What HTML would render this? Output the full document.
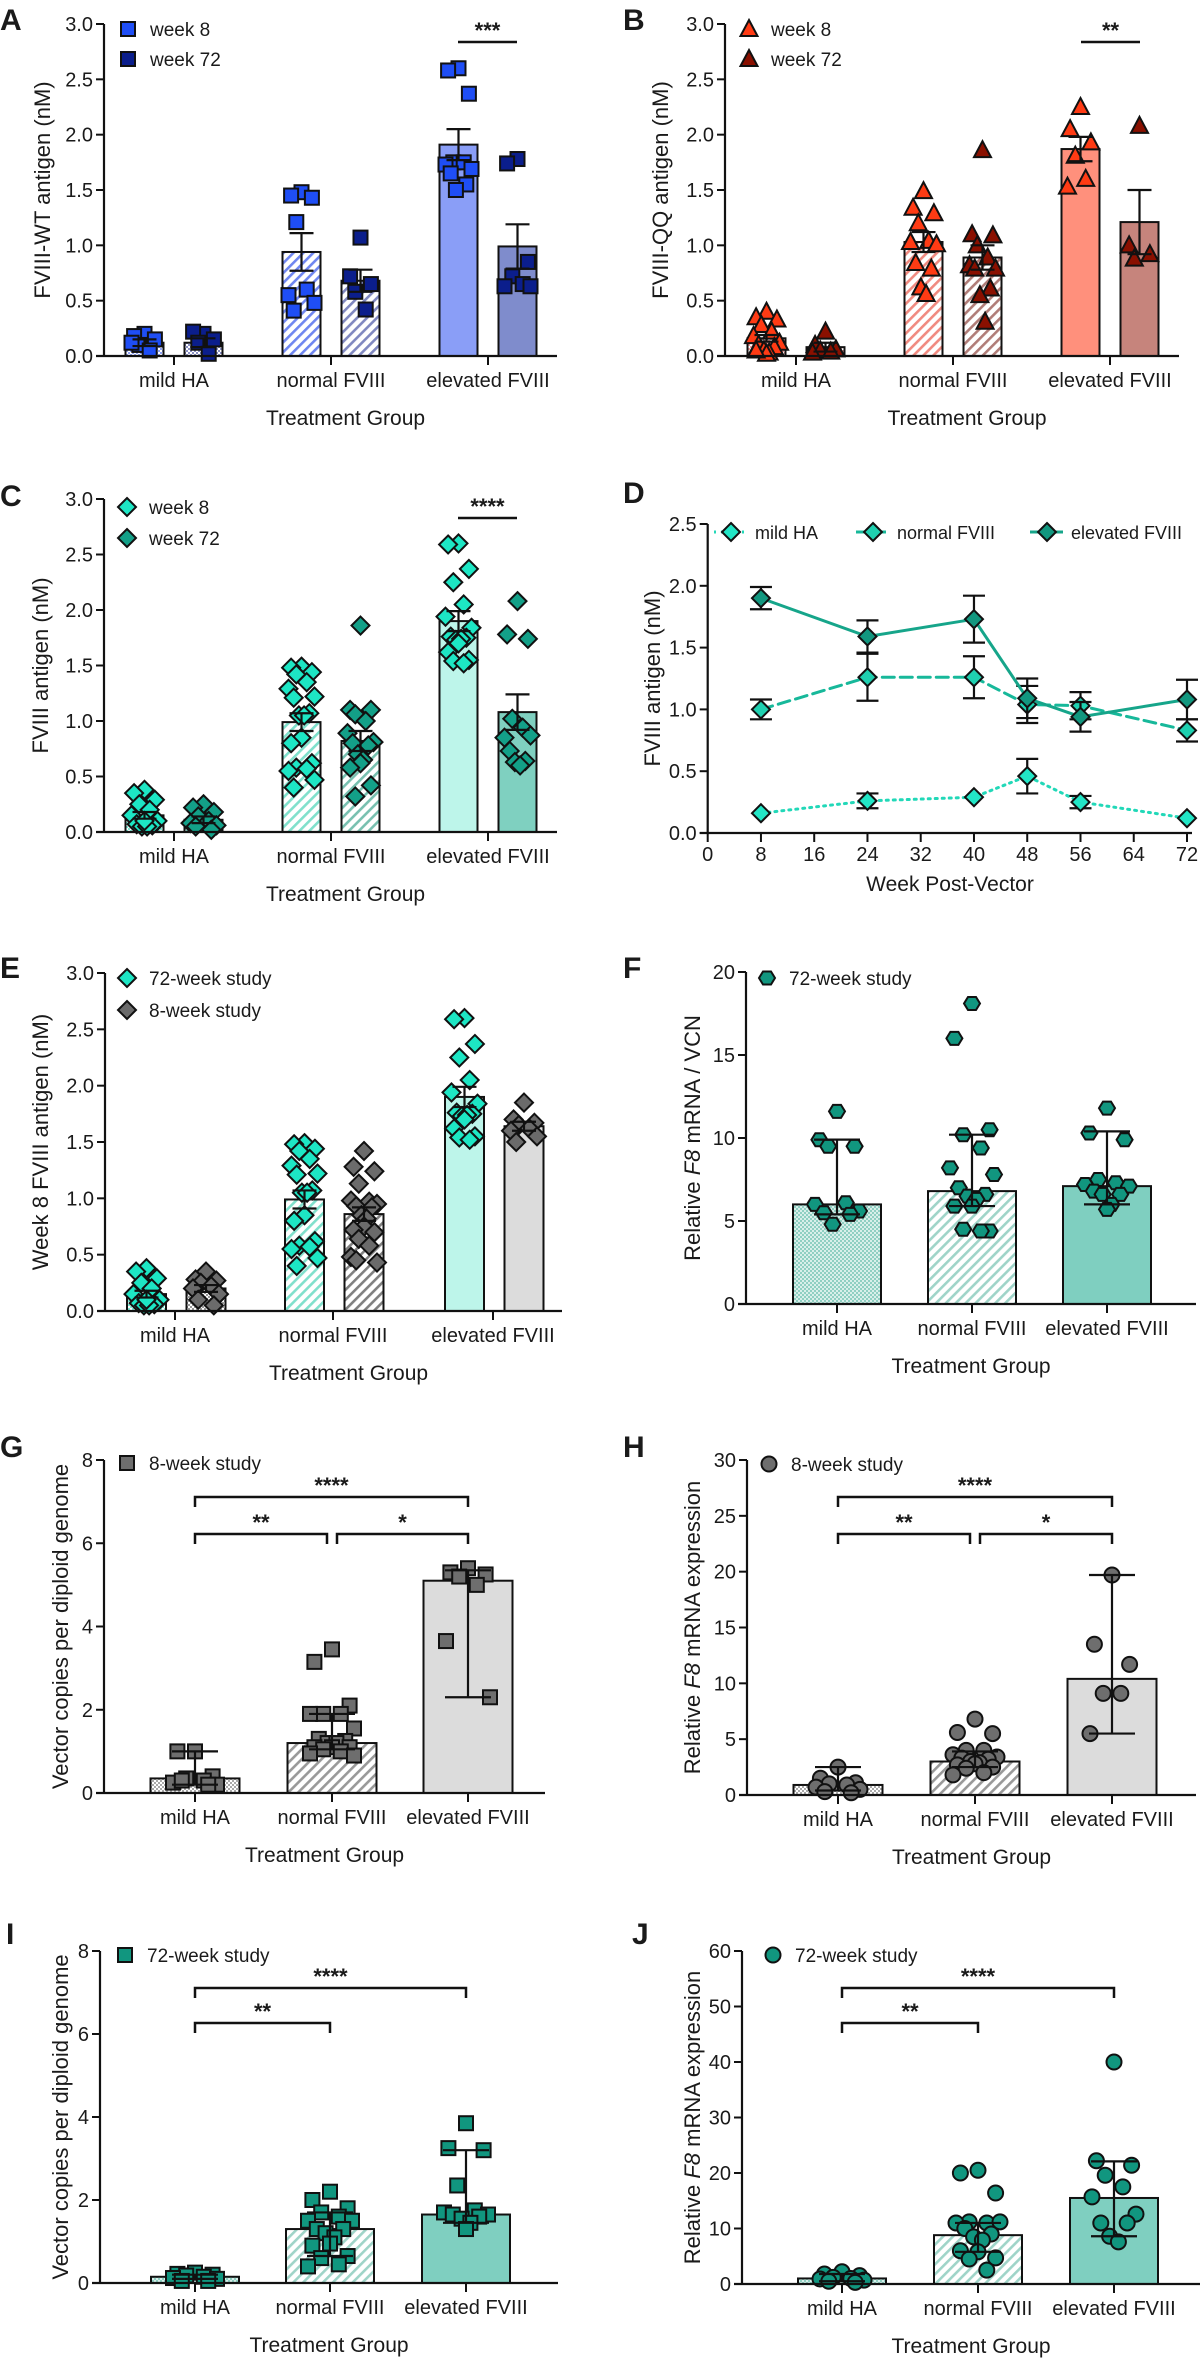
<!DOCTYPE html>
<html><head><meta charset="utf-8">
<style>
html,body{margin:0;padding:0;background:#fff;}
svg{display:block;font-family:"Liberation Sans",Arial,sans-serif;}
</style></head>
<body>
<svg id="fig" width="1200" height="2359" viewBox="0 0 1200 2359" xmlns="http://www.w3.org/2000/svg">
<defs id="defs"></defs>
</svg>
<script>
// ---------- DATA ----------
const cats=['mild HA','normal FVIII','elevated FVIII'];
// Panel A
const aW8Mean=[0.12,0.94,1.91];
const aW8Sem=[0.03,0.17,0.14];
const aW8Pts=[[0.2,0.18,0.15,0.1,0.05,0.12],[1.48,1.45,1.43,1.21,0.6,0.55,0.48,0.41],[2.6,2.58,2.37,1.75,1.75,1.73,1.69,1.65,1.55,1.5]];
const aW72Mean=[0.12,0.68,0.99];
const aW72Sem=[0.04,0.1,0.2];
const aW72Pts=[[0.2,0.22,0.15,0.12,0.02],[1.07,0.72,0.65,0.58,0.42],[1.78,1.74,0.85,0.72,0.65,0.63,0.63]];
// Panel B
const bW8Mean=[0.16,1.03,1.87];
const bW8Sem=[0.03,0.09,0.11];
const bW8Pts=[[0.4,0.35,0.33,0.28,0.22,0.18,0.12,0.1,0.08,0.05,0.03,0.02,0.05],[1.49,1.34,1.29,1.2,1.04,1.03,1.01,0.84,0.79,0.62,0.56],[2.25,2.05,1.93,1.81,1.6,1.53]];
const bW72Mean=[0.08,0.89,1.21];
const bW72Sem=[0.04,0.11,0.29];
const bW72Pts=[[0.22,0.1,0.06,0.05,0.04,0.03],[1.86,1.1,1.09,1.0,0.89,0.82,0.79,0.79,0.61,0.55,0.31],[2.08,1.0,0.92,0.88]];
// Panel C
const cW8Mean=[0.15,0.99,1.9];
const cW8Sem=[0.03,0.08,0.09];
const cW8Pts=[[0.38,0.35,0.29,0.25,0.2,0.15,0.1,0.07,0.06,0.05,0.05,0.1],[1.49,1.48,1.44,1.42,1.35,1.29,1.22,1.21,1.07,1.05,1.05,0.85,0.8,0.62,0.58,0.57,0.55,0.47,0.4],[2.6,2.59,2.37,2.25,2.05,1.94,1.84,1.76,1.75,1.73,1.74,1.7,1.62,1.55,1.54,1.52]];
const cW72Mean=[0.11,0.82,1.08];
const cW72Sem=[0.03,0.09,0.16];
const cW72Pts=[[0.25,0.22,0.18,0.14,0.1,0.08,0.06,0.05,0.02],[1.86,1.1,1.1,1.06,1.0,0.89,0.81,0.8,0.78,0.7,0.65,0.62,0.58,0.42,0.32],[2.08,1.78,1.74,1.02,0.94,0.85,0.87,0.73,0.64,0.63,0.6]];
// Panel D
const dWeeks=[8,24,40,48,56,72];
const dMild=[0.16,0.26,0.29,0.46,0.25,0.12];
const dMildErr=[0,0.06,0,0.14,0.05,0];
const dNormal=[1.0,1.26,1.26,1.04,1.03,0.83];
const dNormalErr=[0.08,0.19,0.17,0.15,0.11,0.09];
const dElev=[1.90,1.59,1.73,1.09,0.94,1.08];
const dElevErr=[0.09,0.13,0.19,0.16,0.12,0.16];
const dXTicks=[0,8,16,24,32,40,48,56,64,72];
// Panel E
const e8Mean=[0.2,0.86,1.64];
const e8Sem=[0.03,0.06,0.04];
const e8Pts=[[0.35,0.28,0.27,0.25,0.22,0.2,0.15,0.1,0.05],[1.42,1.28,1.24,1.13,0.97,0.98,0.95,0.93,0.92,0.85,0.82,0.75,0.72,0.7,0.64,0.58,0.48,0.43,0.45],[1.85,1.7,1.67,1.65,1.62,1.6,1.55,1.5]];
// Panel F
const fMed=[6.0,6.8,7.1];
const fLo=[5.4,5.9,6.0];
const fHi=[9.9,10.2,10.4];
const fPts=[[11.6,9.9,9.5,9.5,6.1,6.0,5.6,5.5,5.4,4.8],[18.1,16.0,10.5,10.2,9.4,8.2,7.8,7.0,6.6,6.5,6.3,5.9,5.9,4.4,4.5,4.4],[11.8,10.3,9.9,7.5,7.3,7.2,7.1,6.8,6.6,6.6,6.0,5.7]];
// Panel G
const gMed=[0.35,1.2,5.1];
const gLo=[0.2,1.05,2.3];
const gHi=[1.0,1.9,5.35];
const gPts=[[1.0,1.0,0.4,0.35,0.3,0.25,0.2,0.3,0.2],[3.45,3.15,2.1,1.9,1.9,1.9,1.55,1.3,1.25,1.2,1.2,1.1,1.1,1.1,1.05,1.0,0.95,0.9],[5.4,5.3,5.25,5.2,5.0,3.65,2.3]];
// Panel H
const hMed=[0.9,3.0,10.4];
const hLo=[0.4,2.5,5.5];
const hHi=[2.5,3.9,19.7];
const hPts=[[2.5,1.5,1.1,1.0,0.9,0.7,0.5,0.3,0.2],[6.8,5.6,5.5,4.0,4.0,3.6,3.4,3.3,3.2,3.0,2.9,2.8,2.7,2.5,2.4,2.0,1.8],[19.7,13.5,11.7,9.1,9.1,5.5]];
// Panel I
const iMed=[0.15,1.3,1.65];
const iLo=[0.1,0.65,1.45];
const iHi=[0.2,1.7,3.2];
const iPts=[[0.25,0.22,0.2,0.18,0.15,0.12,0.1,0.05,0.05],[2.2,2.0,1.8,1.7,1.6,1.5,1.5,1.3,1.3,1.2,1.1,0.95,0.9,0.65,0.6,0.45,0.4],[3.85,3.25,3.2,2.35,1.75,1.7,1.65,1.65,1.6,1.55,1.45,1.3]];
// Panel J
const jMed=[1.0,8.8,15.5];
const jLo=[0.5,5.8,8.6];
const jHi=[1.8,11.0,22.1];
const jPts=[[2.2,1.8,1.5,1.2,1.0,0.9,0.7,0.5,0.3],[20.5,20,16.4,11.2,11,11,11.2,10,9,8.5,7.9,5.8,6.0,4.7,4.5,2.5],[40,22.2,21.4,19.6,17.5,15.7,12.6,11,11,8.6,7.6]];

// ---------- HELPERS ----------
const NS='http://www.w3.org/2000/svg';
const svg=document.getElementById('fig');
const defs=document.getElementById('defs');
function mk(tag,attrs,parent){const e=document.createElementNS(NS,tag);for(const k in attrs)e.setAttribute(k,attrs[k]);(parent||svg).appendChild(e);return e;}
function txt(x,y,s,size,anchor,parent,weight){const t=mk('text',{x:x,y:y,'font-size':size,'text-anchor':anchor||'middle',fill:'#1a1a1a','font-weight':weight||'normal'},parent);t.textContent=s;return t;}
let patN=0;
function pattern(type,color,bg){
  if(type==='solid')return color;
  const id='p'+(patN++);
  if(type==='check'){
    const p=mk('pattern',{id:id,width:4,height:4,patternUnits:'userSpaceOnUse'},defs);
    mk('rect',{x:0,y:0,width:4,height:4,fill:bg},p);
    mk('rect',{x:0,y:0,width:2,height:2,fill:color},p);
    mk('rect',{x:2,y:2,width:2,height:2,fill:color},p);
  }else{
    const p=mk('pattern',{id:id,width:7,height:7,patternUnits:'userSpaceOnUse',patternTransform:'rotate(45)'},defs);
    mk('rect',{x:0,y:0,width:7,height:7,fill:bg},p);
    mk('rect',{x:0,y:0,width:2.6,height:7,fill:color},p);
  }
  return 'url(#'+id+')';
}
function marker(type,x,y,color,parent){
  let e;
  if(type==='square')e=mk('rect',{x:x-7,y:y-7,width:14,height:14},parent);
  else if(type==='diamond')e=mk('polygon',{points:`${x},${y-9} ${x+9},${y} ${x},${y+9} ${x-9},${y}`},parent);
  else if(type==='triangle')e=mk('polygon',{points:`${x},${y-9} ${x+8.5},${y+7} ${x-8.5},${y+7}`},parent);
  else if(type==='hex'){let pts=[];for(let k=0;k<6;k++){const a=Math.PI/3*k;pts.push((x+8*Math.cos(a)).toFixed(1)+','+(y+7.5*Math.sin(a)).toFixed(1));}e=mk('polygon',{points:pts.join(' ')},parent);}
  else e=mk('circle',{cx:x,cy:y,r:7.5},parent);
  e.setAttribute('fill',color);e.setAttribute('stroke','#111');e.setAttribute('stroke-width','2');
  return e;
}
const jit=[0,-0.8,0.8,-0.4,0.4,-1,1,-0.6,0.6,-0.2,0.2];

function panel(p){
  const g=mk('g',{});
  
  
  const ys=v=>p.y0-v/p.vmax*(p.y0-p.yTop);
  p.series.forEach((s,si)=>{
    const sg=mk('g',{},g);
    
    
    for(let c=0;c<3;c++){
      const cx=p.centers[c]+s.offset;
      const top=ys(s.means[c]);
      const r=mk('rect',{x:cx-p.bw/2,y:top,width:p.bw,height:p.y0-top,fill:s.fills[c],stroke:'#111','stroke-width':2},sg);
      
      
    }
    for(let c=0;c<3;c++){
      const cx=p.centers[c]+s.offset;
      s.pts[c].forEach((v,i)=>{
        const m=marker(s.marker,cx+jit[i%jit.length]*p.jw,ys(v),s.color,sg);
        
        
      });
    }
    for(let c=0;c<3;c++){
      const cx=p.centers[c]+s.offset;
      const lo=ys(s.lo[c]),hi=ys(s.hi[c]);
      const eb=mk('path',{d:`M${cx},${lo}V${hi}M${cx-p.cap/2},${hi}H${cx+p.cap/2}M${cx-p.cap/2},${lo}H${cx+p.cap/2}`,stroke:'#111','stroke-width':2.2,fill:'none'},sg);
      
      
    }
  });
  axes(p,ys,g);
  for(let c=0;c<3;c++){
    mk('line',{x1:p.centers[c],x2:p.centers[c],y1:p.y0,y2:p.y0+9,stroke:'#111','stroke-width':2},g);
    const t=txt(p.centers[c],p.y0+31,cats[c],20,'middle',g);
    
    
  }
  const xt=txt((p.ax+p.xEnd)/2+p.xtShift,p.y0+69,'Treatment Group',21,'middle',g);
  
  
  p.legend.forEach(L=>{
    const m=marker(L.marker,L.x,L.y,L.color,g);
    
    
    const t=txt(L.x+22,L.y+7,L.label,19,'start',g);
    
    
  });
  (p.sig||[]).forEach(S=>{
    const d=S.drop?`M${S.x1},${S.y+S.drop}V${S.y}H${S.x2}V${S.y+S.drop}`:`M${S.x1},${S.y}H${S.x2}`;
    const b=mk('path',{d:d,stroke:'#111','stroke-width':2.5,fill:'none'},g);
    
    
    const t=txt((S.x1+S.x2)/2,S.y-4,S.stars,22,'middle',g,'bold');
    
    
  });
}
function axes(p,ys,g){
  const ax=mk('path',{d:`M${p.ax},${p.yTop}V${p.y0}M${p.ax-8},${p.y0}H${p.xEnd}`,stroke:'#111','stroke-width':2.2,fill:'none'},g);
  
  
  for(let v=0;v<=p.vmax+1e-9;v+=p.step){
    const y=ys(v);
    mk('line',{x1:p.ax-8,x2:p.ax,y1:y,y2:y,stroke:'#111','stroke-width':2},g);
    const t=txt(p.ax-11,y+7,v.toFixed(p.dec),20,'end',g);
    
    
  }
  const cy=(p.yTop+p.y0)/2;
  const t=mk('text',{x:p.titleX,y:cy,'font-size':22,'text-anchor':'middle',fill:'#1a1a1a',transform:`rotate(-90 ${p.titleX} ${cy})`},g);
  t.innerHTML=p.title;
  
  
  const L=txt(p.letterX,p.letterY,p.letter,30,'start',g,'bold');
  
  
}
function sem(m,s,sign){return m.map((v,i)=>v+sign*s[i]);}

// ---------- PANELS ----------
const W='#ffffff';
panel({id:'a',ax:104,xEnd:557,y0:356,yTop:24,vmax:3,step:0.5,dec:1,centers:[174,331,488],bw:38,jw:13,cap:24,xtShift:15,
 title:'FVIII-WT antigen (nM)',titleX:50,letter:'A',letterX:0,letterY:30,
 series:[
  {name:'week8',means:aW8Mean,lo:sem(aW8Mean,aW8Sem,-1),hi:sem(aW8Mean,aW8Sem,1),pts:aW8Pts,marker:'square',color:'#1f4ef5',offset:-29.5,
   fills:[pattern('check','#8fa2f5',W),pattern('stripe','#6f86f0',W),'#8a9ef7']},
  {name:'week72',means:aW72Mean,lo:sem(aW72Mean,aW72Sem,-1),hi:sem(aW72Mean,aW72Sem,1),pts:aW72Pts,marker:'square',color:'#0b1e8c',offset:29.5,
   fills:[pattern('check','#8a90c4',W),pattern('stripe','#8088c0',W),'#7f8ccc']}],
 legend:[{x:128,y:29,label:'week 8',marker:'square',color:'#1f4ef5'},{x:128,y:59,label:'week 72',marker:'square',color:'#0b1e8c'}],
 sig:[{x1:458,x2:517,y:42,stars:'***'}]});
panel({id:'b',ax:725,xEnd:1179,y0:356,yTop:24,vmax:3,step:0.5,dec:1,centers:[796,953,1110],bw:38,jw:13,cap:24,xtShift:15,
 title:'FVIII-QQ antigen (nM)',titleX:668,letter:'B',letterX:623,letterY:30,
 series:[
  {name:'week8',means:bW8Mean,lo:sem(bW8Mean,bW8Sem,-1),hi:sem(bW8Mean,bW8Sem,1),pts:bW8Pts,marker:'triangle',color:'#ff3b14',offset:-29.5,
   fills:[pattern('check','#f29a9a',W),pattern('stripe','#f08a80',W),'#ff907c']},
  {name:'week72',means:bW72Mean,lo:sem(bW72Mean,bW72Sem,-1),hi:sem(bW72Mean,bW72Sem,1),pts:bW72Pts,marker:'triangle',color:'#8a1000',offset:29.5,
   fills:[pattern('check','#c89090',W),pattern('stripe','#b07d78',W),'#c6847c']}],
 legend:[{x:749,y:29,label:'week 8',marker:'triangle',color:'#ff3b14'},{x:749,y:59,label:'week 72',marker:'triangle',color:'#8a1000'}],
 sig:[{x1:1081,x2:1140,y:42,stars:'**'}]});
panel({id:'c',ax:104,xEnd:557,y0:832,yTop:499,vmax:3,step:0.5,dec:1,centers:[174,331,488],bw:38,jw:13,cap:24,xtShift:15,
 title:'FVIII antigen (nM)',titleX:48,letter:'C',letterX:0,letterY:506,
 series:[
  {name:'week8',means:cW8Mean,lo:sem(cW8Mean,cW8Sem,-1),hi:sem(cW8Mean,cW8Sem,1),pts:cW8Pts,marker:'diamond',color:'#1de6c4',offset:-29.5,
   fills:[pattern('check','#7ee8d4',W),pattern('stripe','#80e0cc',W),'#bdf5ea']},
  {name:'week72',means:cW72Mean,lo:sem(cW72Mean,cW72Sem,-1),hi:sem(cW72Mean,cW72Sem,1),pts:cW72Pts,marker:'diamond',color:'#13a088',offset:29.5,
   fills:[pattern('check','#78c8b8',W),pattern('stripe','#78c0b0',W),'#7fd0c0']}],
 legend:[{x:127,y:507,label:'week 8',marker:'diamond',color:'#1de6c4'},{x:127,y:538,label:'week 72',marker:'diamond',color:'#13a088'}],
 sig:[{x1:458,x2:517,y:518,stars:'****'}]});
panel({id:'e',ax:105,xEnd:562,y0:1311,yTop:973,vmax:3,step:0.5,dec:1,centers:[175,333,493],bw:39,jw:13,cap:24,xtShift:15,
 title:'Week 8 FVIII antigen (nM)',titleX:48,letter:'E',letterX:0,letterY:978,
 series:[
  {name:'72-week',means:cW8Mean,lo:sem(cW8Mean,cW8Sem,-1),hi:sem(cW8Mean,cW8Sem,1),pts:cW8Pts,marker:'diamond',color:'#1de6c4',offset:-28.5,
   fills:[pattern('check','#7ee8d4',W),pattern('stripe','#80e0cc',W),'#bdf5ea']},
  {name:'8-week',means:e8Mean,lo:sem(e8Mean,e8Sem,-1),hi:sem(e8Mean,e8Sem,1),pts:e8Pts,marker:'diamond',color:'#6b6b6b',offset:31,
   fills:[pattern('check','#999999',W),pattern('stripe','#808080',W),'#dcdcdc']}],
 legend:[{x:127,y:978,label:'72-week study',marker:'diamond',color:'#1de6c4'},{x:127,y:1010,label:'8-week study',marker:'diamond',color:'#6b6b6b'}]});
panel({id:'f',ax:746,xEnd:1196,y0:1304,yTop:972,vmax:20,step:5,dec:0,centers:[837,972,1107],bw:88,jw:22,cap:46,xtShift:0,
 title:'Relative <tspan font-style="italic">F8</tspan> mRNA / VCN',titleX:700,letter:'F',letterX:623,letterY:978,
 series:[{name:'72-week',means:fMed,lo:fLo,hi:fHi,pts:fPts,marker:'hex',color:'#11967f',offset:0,
   fills:[pattern('check','#8fcfc2','#d8efea'),pattern('stripe','#9fd4c8',W),'#7fcfc0']}],
 legend:[{x:767,y:978,label:'72-week study',marker:'hex',color:'#11967f'}]});
panel({id:'g',ax:104,xEnd:545,y0:1793,yTop:1460,vmax:8,step:2,dec:0,centers:[195,332,468],bw:89,jw:22,cap:46,xtShift:0,
 title:'Vector copies per diploid genome',titleX:68,letter:'G',letterX:0,letterY:1457,
 series:[{name:'8-week',means:gMed,lo:gLo,hi:gHi,pts:gPts,marker:'square',color:'#6e6e6e',offset:0,
   fills:[pattern('check','#aaaaaa',W),pattern('stripe','#999999',W),'#dcdcdc']}],
 legend:[{x:127,y:1463,label:'8-week study',marker:'square',color:'#6e6e6e'}],
 sig:[{x1:195,x2:468,y:1497,drop:10,stars:'****'},{x1:195,x2:327,y:1534,drop:10,stars:'**'},{x1:337,x2:468,y:1534,drop:10,stars:'*'}]});
panel({id:'h',ax:747,xEnd:1196,y0:1795,yTop:1460,vmax:30,step:5,dec:0,centers:[838,975,1112],bw:89,jw:22,cap:46,xtShift:0,
 title:'Relative <tspan font-style="italic">F8</tspan> mRNA expression',titleX:700,letter:'H',letterX:623,letterY:1457,
 series:[{name:'8-week',means:hMed,lo:hLo,hi:hHi,pts:hPts,marker:'circle',color:'#6e6e6e',offset:0,
   fills:[pattern('check','#aaaaaa',W),pattern('stripe','#999999',W),'#dcdcdc']}],
 legend:[{x:769,y:1464,label:'8-week study',marker:'circle',color:'#6e6e6e'}],
 sig:[{x1:838,x2:1112,y:1497,drop:10,stars:'****'},{x1:838,x2:970,y:1534,drop:10,stars:'**'},{x1:980,x2:1112,y:1534,drop:10,stars:'*'}]});
panel({id:'i',ax:100,xEnd:558,y0:2283,yTop:1951,vmax:8,step:2,dec:0,centers:[195,330,466],bw:88,jw:22,cap:46,xtShift:0,
 title:'Vector copies per diploid genome',titleX:68,letter:'I',letterX:6,letterY:1944,
 series:[{name:'72-week',means:iMed,lo:iLo,hi:iHi,pts:iPts,marker:'square',color:'#11967f',offset:0,
   fills:[pattern('check','#8fcfc2','#d8efea'),pattern('stripe','#9fd4c8',W),'#7fcfc0']}],
 legend:[{x:125,y:1955,label:'72-week study',marker:'square',color:'#11967f'}],
 sig:[{x1:195,x2:466,y:1988,drop:10,stars:'****'},{x1:195,x2:330,y:2023,drop:10,stars:'**'}]});
panel({id:'j',ax:742,xEnd:1200,y0:2284,yTop:1951,vmax:60,step:10,dec:0,centers:[842,978,1114],bw:88,jw:22,cap:46,xtShift:0,
 title:'Relative <tspan font-style="italic">F8</tspan> mRNA expression',titleX:700,letter:'J',letterX:632,letterY:1944,
 series:[{name:'72-week',means:jMed,lo:jLo,hi:jHi,pts:jPts,marker:'circle',color:'#11967f',offset:0,
   fills:[pattern('check','#8fcfc2','#d8efea'),pattern('stripe','#9fd4c8',W),'#7fcfc0']}],
 legend:[{x:773,y:1955,label:'72-week study',marker:'circle',color:'#11967f'}],
 sig:[{x1:842,x2:1114,y:1988,drop:10,stars:'****'},{x1:842,x2:978,y:2023,drop:10,stars:'**'}]});

// ---------- PANEL D (line chart) ----------
(function(){
  const p={ax:707.7,xEnd:1192,y0:833,yTop:524,vmax:2.5,step:0.5,dec:1,title:'FVIII antigen (nM)',titleX:660,letter:'D',letterX:623,letterY:503};
  const g=mk('g',{});
  
  
  const ys=v=>p.y0-v/p.vmax*(p.y0-p.yTop);
  const xs=w=>p.ax+w*(1187-707.7)/72;
  axes(p,ys,g);
  dXTicks.forEach(w=>{
    mk('line',{x1:xs(w),x2:xs(w),y1:p.y0,y2:p.y0+9,stroke:'#111','stroke-width':2},g);
    const t=txt(xs(w),p.y0+28,String(w),20,'middle',g);
    
    
  });
  const xt=txt(950,p.y0+58,'Week Post-Vector',21,'middle',g);
  
  
  const series=[
    {name:'mild-ha',vals:dMild,err:dMildErr,line:'#22d8b8',mfill:'#22e6c6',dash:'2 5',label:'mild HA',lx:714},
    {name:'normal-fviii',vals:dNormal,err:dNormalErr,line:'#17b89a',mfill:'#1fd0b0',dash:'12 6',label:'normal FVIII',lx:856},
    {name:'elevated-fviii',vals:dElev,err:dElevErr,line:'#16a58a',mfill:'#12977f',dash:'',label:'elevated FVIII',lx:1030}];
  series.forEach(s=>{
    const sg=mk('g',{},g);
    
    
    const d=s.vals.map((v,i)=>(i?'L':'M')+xs(dWeeks[i]).toFixed(1)+','+ys(v).toFixed(1)).join('');
    const ln=mk('path',{d:d,fill:'none',stroke:s.line,'stroke-width':3,'stroke-dasharray':s.dash,'stroke-linecap':'round'},sg);
    
    
    s.vals.forEach((v,i)=>{
      const x=xs(dWeeks[i]);
      if(s.err[i]>0){
        const lo=ys(v-s.err[i]),hi=ys(v+s.err[i]);
        const eb=mk('path',{d:`M${x},${lo}V${hi}M${x-11},${hi}H${x+11}M${x-11},${lo}H${x+11}`,stroke:'#111','stroke-width':2.2,fill:'none'},sg);
        
        
      }
      const m=marker('diamond',x,ys(v),s.mfill,sg);
      
      
    });
    const ll=mk('line',{x1:s.lx,x2:s.lx+33,y1:532,y2:532,stroke:s.line,'stroke-width':3,'stroke-dasharray':s.dash},g);
    
    
    const lm=marker('diamond',s.lx+17,532,s.mfill,g);
    
    
    const lt=txt(s.lx+41,539,s.label,18,'start',g);
    
    
  });
})();
</script>
</body></html>
